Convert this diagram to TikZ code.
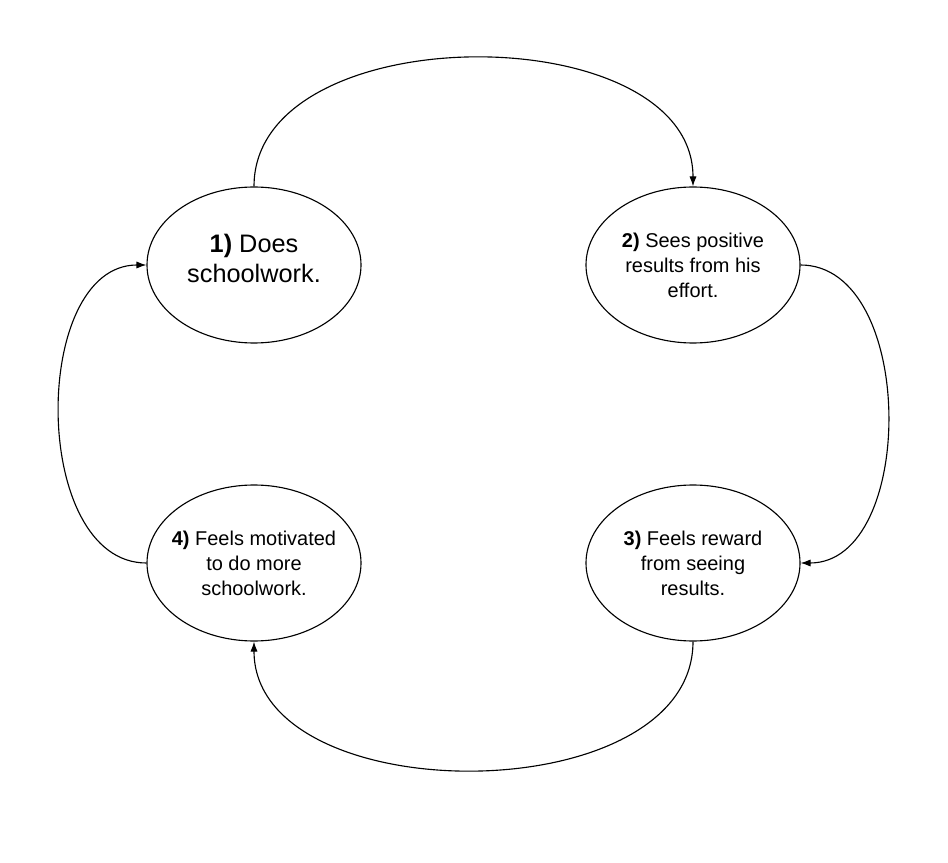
\documentclass[tikz,border=0pt]{standalone}
\usepackage{fontspec}
\setmainfont{Liberation Sans}
\usepackage{tikz}
\usetikzlibrary{shapes,arrows.meta}

\begin{document}
\begin{tikzpicture}[line width=0.8pt, ->, >={Latex[length=2.5mm,width=1.8mm]},
  node distance=10.975cm,
  phase/.style={draw, ellipse, inner xsep=-1.2cm, inner ysep=0pt, minimum width=5.35cm, minimum height=3.9cm,
    align=center, font=\fontsize{14.2}{17.8}\selectfont}]

  \useasboundingbox (0,0) rectangle (23.7,-21.575);

  \node [phase, font=\fontsize{18}{21.3}\selectfont] (phase1) at (6.35,-6.625) {\textbf{1)} Does\\schoolwork.\\[-0.4cm]};
  \node [phase] (phase2) [right of=phase1] {\textbf{2)} Sees positive\\results from his\\effort.};
  \node [phase] (phase3) [below of=phase2, node distance=7.45cm] {\textbf{3)} Feels reward\\from seeing\\results.};
  \node [phase] (phase4) [left of=phase3] {\textbf{4)} Feels motivated\\to do more\\schoolwork.};
  \path  (phase1) edge [out=90, in=90] (phase2);
  \path  (phase2) edge [out=0, in=0] (phase3);
  \path  (phase3) edge [out=-90, in=-90] (phase4);
  \path  (phase4) edge [out=180, in=180] (phase1);
\end{tikzpicture}
\end{document}
